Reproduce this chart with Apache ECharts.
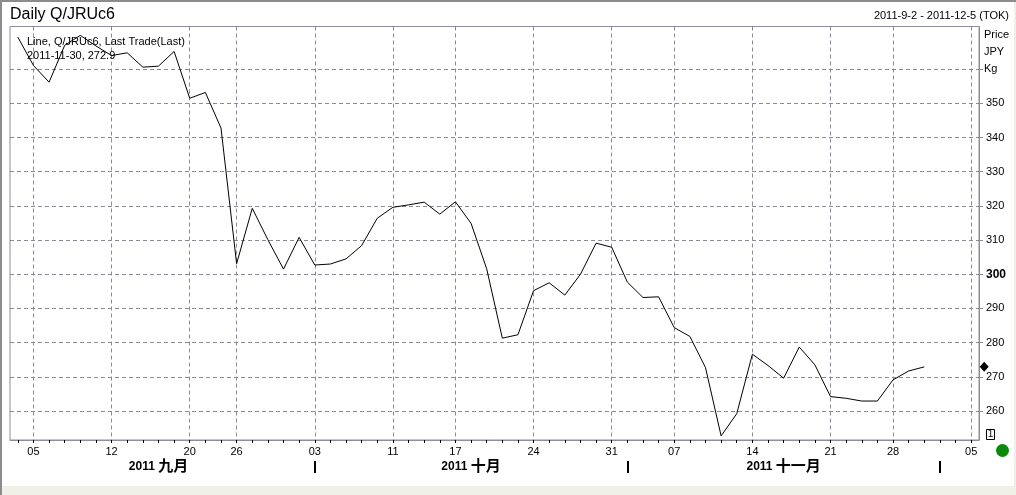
<!DOCTYPE html>
<html><head><meta charset="utf-8">
<script src="https://cdn.jsdelivr.net/npm/echarts@6/dist/echarts.min.js"></script>
<style>
html,body{margin:0;padding:0;background:#f1f0e8;}
#c{position:absolute;left:0;top:0;width:1016px;height:495px;background:#fff;
box-shadow: inset 2px 2px 0 #8c8c8c, inset -2px -9px 0 #f1f0e8;}
</style></head><body><div id="c"></div>
<script>
// Trading days on the category axis (TOK), 2011-9-2 .. 2011-12-5
const dates = [
 '2011-09-02','2011-09-05','2011-09-06','2011-09-07','2011-09-08','2011-09-09',
 '2011-09-12','2011-09-13','2011-09-14','2011-09-15','2011-09-16',
 '2011-09-20','2011-09-21','2011-09-22',
 '2011-09-26','2011-09-27','2011-09-28','2011-09-29','2011-09-30',
 '2011-10-03','2011-10-04','2011-10-05','2011-10-06','2011-10-07',
 '2011-10-11','2011-10-12','2011-10-13','2011-10-14',
 '2011-10-17','2011-10-18','2011-10-19','2011-10-20','2011-10-21',
 '2011-10-24','2011-10-25','2011-10-26','2011-10-27','2011-10-28',
 '2011-10-31','2011-11-01','2011-11-02','2011-11-04',
 '2011-11-07','2011-11-08','2011-11-09','2011-11-10','2011-11-11',
 '2011-11-14','2011-11-15','2011-11-16','2011-11-17','2011-11-18',
 '2011-11-21','2011-11-22','2011-11-24','2011-11-25',
 '2011-11-28','2011-11-29','2011-11-30',
 '2011-12-01','2011-12-02','2011-12-05'
];
// Last trade prices (JPY/Kg)
const prices = [
 369.4, 361.1, 356.2, 367.0, 369.9, 366.8, 364.0, 364.8, 360.6, 360.9, 365.2,
 351.5, 353.2, 342.8, 303.1, 319.3, 310.1, 301.5, 310.8,
 302.7, 303.0, 304.5, 308.4, 316.4, 319.6, 320.3, 321.1, 317.6, 321.2, 314.9,
 301.6, 281.3, 282.3, 295.2, 297.5, 293.9, 300.0, 309.1, 307.9,
 297.7, 293.2, 293.4, 284.4, 281.8, 272.7, 252.7, 259.2, 276.6, 273.3, 269.6,
 278.7, 273.5, 264.2, 263.7, 262.9, 262.9, 269.1, 271.7, 272.9
];
// Price-axis ticks / gridlines and labelled values
const yTickValues = [260, 270, 280, 290, 300, 310, 320, 330, 340, 350, 360];
const yLabelValues = [260, 270, 280, 290, 300, 310, 320, 330, 340, 350];
const monthNames = ['一月','二月','三月','四月','五月','六月','七月','八月','九月','十月','十一月','十二月'];
const seriesName = 'Q/JRUc6';
const legendText = 'Line, Q/JRUc6, Last Trade(Last)';
const rangeText = '2011-9-2 - 2011-12-5 (TOK)';
const unitLabels = ['Price', 'JPY', 'Kg'];
const boxText = '1';

const FONT = '"Liberation Sans", Arial, sans-serif';
const CJK = '"Noto Sans CJK SC", sans-serif';
const GRID_C = '#8d8d9b';
const DASH_C = '#8a8a94';

function wd(s){ return new Date(s + 'T00:00:00Z').getUTCDay(); }
const weekStart = dates.map((d, i) => i > 0 && wd(d) < wd(dates[i - 1]));
const monthStarts = [];
dates.forEach((d, i) => { if (i > 0 && d.slice(5, 7) !== dates[i - 1].slice(5, 7)) monthStarts.push(i); });
const monthCenters = monthStarts.map((s, k) => Math.round(((k === 0 ? -1 : monthStarts[k - 1]) + s) / 2));
const startSet = new Set(monthStarts), centerSet = new Set(monthCenters);

const lastIdx = prices.length - 1;
const chart = echarts.init(document.getElementById('c'));
chart.setOption({
  animation: false,
  grid: { left: 10, right: 37, top: 26.5, bottom: 55, show: true, borderColor: GRID_C, borderWidth: 1 },
  xAxis: [{
    type: 'category', data: dates, boundaryGap: true, position: 'bottom',
    axisLine: { show: true, lineStyle: { color: GRID_C } },
    axisTick: { show: true, interval: 0, alignWithLabel: true, length: 3, lineStyle: { color: '#000' } },
    axisLabel: { interval: (i) => weekStart[i], formatter: (v) => v.slice(8, 10), color: '#000',
      fontSize: 11, fontFamily: FONT, margin: 6 },
    splitLine: { show: true, alignWithLabel: true, interval: (i) => weekStart[i],
      lineStyle: { type: [4, 3], color: DASH_C, width: 1 } }
  }, {
    type: 'category', data: dates, boundaryGap: true, position: 'bottom', offset: 21,
    axisLine: { show: false },
    axisTick: { show: true, interval: (i) => startSet.has(i), alignWithLabel: true, length: 12,
      lineStyle: { color: '#000', width: 2 } },
    axisLabel: { interval: (i) => centerSet.has(i), margin: 4, verticalAlign: 'middle',
      formatter: (v) => '{d|' + v.slice(0, 4) + '} {c|' + monthNames[+v.slice(5, 7) - 1] + '}',
      rich: { d: { fontFamily: FONT, fontWeight: 'bold', fontSize: 12, color: '#000', lineHeight: 16, verticalAlign: 'middle', padding: [4, 0, 0, 0] },
              c: { fontFamily: CJK, fontWeight: 'bold', fontSize: 15, color: '#000', lineHeight: 16, verticalAlign: 'middle' } } },
    splitLine: { show: false }
  }],
  yAxis: {
    type: 'value', position: 'right', min: 251.5, max: 372.5,
    axisLine: { show: true, lineStyle: { color: GRID_C } },
    axisTick: { show: true, length: 4, customValues: yTickValues, lineStyle: { color: GRID_C } },
    axisLabel: { customValues: yLabelValues, margin: 7, color: '#000', fontSize: 11, fontFamily: FONT,
      formatter: (v) => (v === 300 ? '{b|300}' : String(v)),
      rich: { b: { fontWeight: 'bold', fontSize: 12, fontFamily: FONT, color: '#000' } } },
    splitLine: { show: true, lineStyle: { type: [4, 3], color: DASH_C, width: 1 } }
  },
  series: [{
    name: seriesName, type: 'line', data: prices, symbol: 'none',
    lineStyle: { color: '#000', width: 1 },
    markPoint: {
      silent: true,
      data: [{ coord: [dates[dates.length - 1], prices[lastIdx]], symbol: 'diamond', symbolSize: [9, 10],
        symbolOffset: [13, 0], itemStyle: { color: '#000' }, label: { show: false } }]
    }
  }],
  graphic: [
    { type: 'text', x: 10, y: 14.5, style: { text: 'Daily ' + seriesName, font: '16px ' + FONT, fill: '#000', verticalAlign: 'middle' } },
    { type: 'text', x: 1009, y: 16, style: { text: rangeText, font: '11px ' + FONT, fill: '#000', align: 'right', verticalAlign: 'middle' } },
    { type: 'text', x: 984, y: 35, style: { text: unitLabels[0], font: '11px ' + FONT, fill: '#000', verticalAlign: 'middle' } },
    { type: 'text', x: 984, y: 52, style: { text: unitLabels[1], font: '11px ' + FONT, fill: '#000', verticalAlign: 'middle' } },
    { type: 'text', x: 984, y: 69, style: { text: unitLabels[2], font: '11px ' + FONT, fill: '#000', verticalAlign: 'middle' } },
    { type: 'text', x: 27, y: 42, z: 10, style: { text: legendText, font: '11px ' + FONT, fill: '#000', verticalAlign: 'middle' } },
    { type: 'text', x: 27, y: 56, z: 10, style: { text: dates[lastIdx] + ', ' + prices[lastIdx].toFixed(1), font: '11px ' + FONT, fill: '#000', verticalAlign: 'middle' } },
    { type: 'rect', shape: { x: 986.5, y: 429.5, width: 8, height: 10 }, style: { fill: '#fff', stroke: '#000', lineWidth: 1 } },
    { type: 'text', x: 990.5, y: 434.5, style: { text: boxText, font: '10px ' + FONT, fill: '#000', align: 'center', verticalAlign: 'middle' } },
    { type: 'circle', shape: { cx: 1002.5, cy: 450.5, r: 6.5 }, style: { fill: '#0a8a0a' } }
  ]
});
</script></body></html>
